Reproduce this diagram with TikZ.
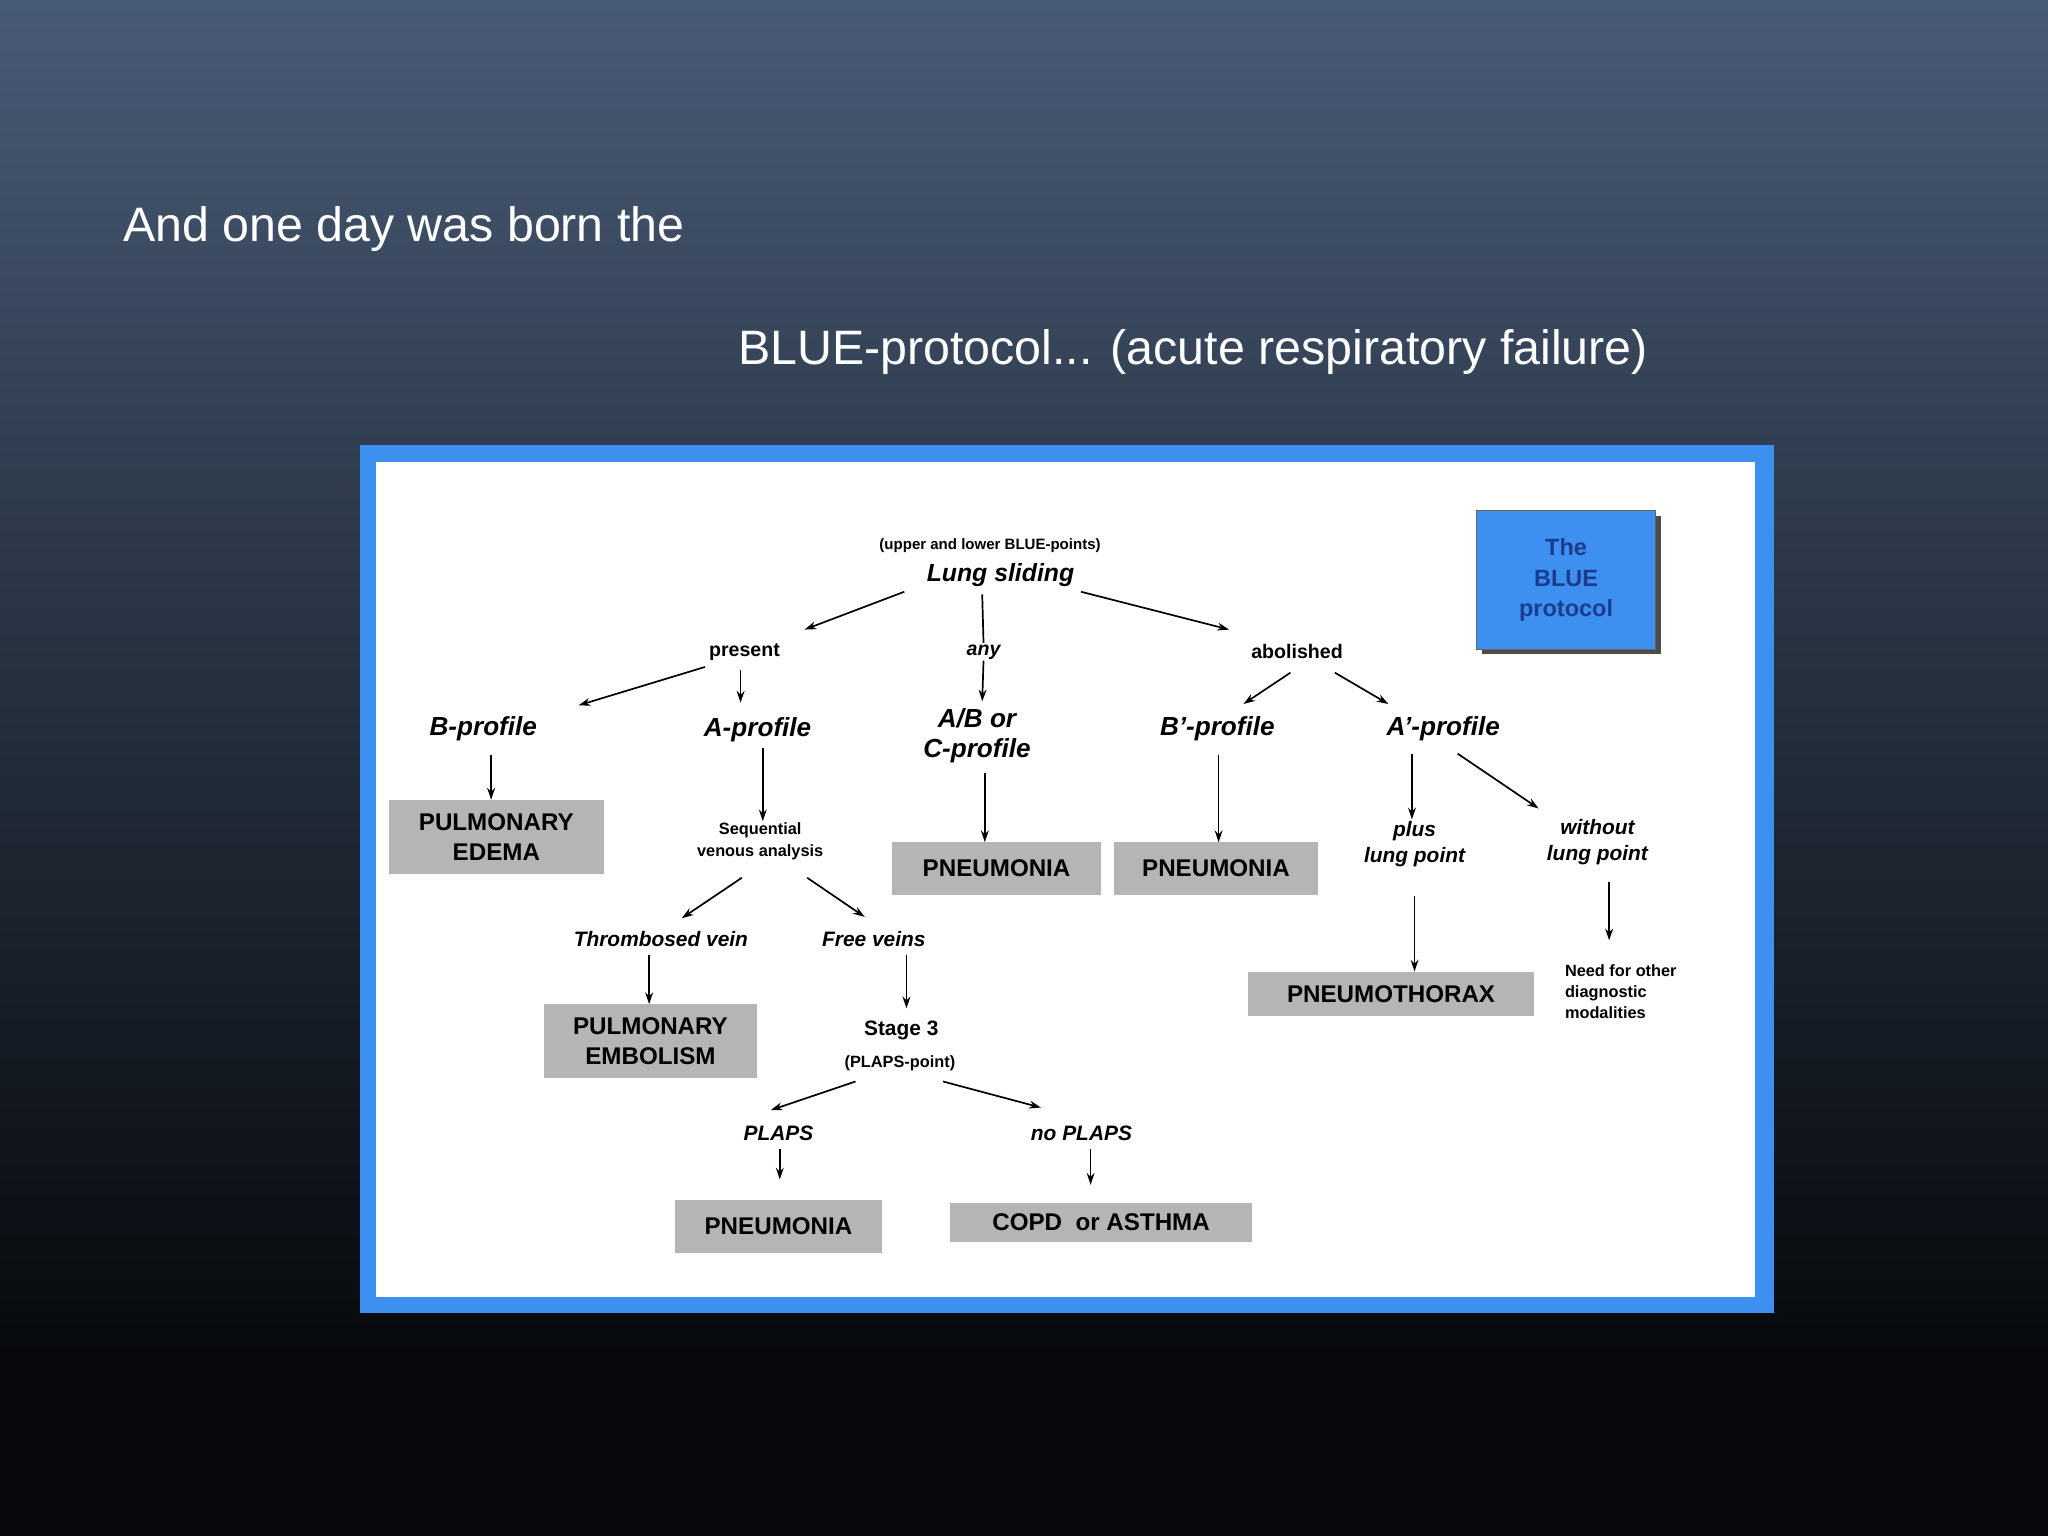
\documentclass[tikz,border=0pt]{standalone}
\usepackage{fontspec}
\setmainfont{Liberation Sans}
\usetikzlibrary{arrows.meta}
\definecolor{bgtop}{HTML}{485B76}
\definecolor{bgmid}{HTML}{26303F}
\definecolor{bgbot}{HTML}{07090C}
\definecolor{frameblue}{HTML}{3D8FF0}
\definecolor{boxgray}{HTML}{B5B5B5}
\definecolor{dkblue}{HTML}{1C3C8E}
\begin{document}
\begin{tikzpicture}[x=1pt,y=-1pt,
  lab/.style={font=\bfseries\fontsize{15}{17}\selectfont,align=center,inner sep=1pt},
  ilab/.style={font=\bfseries\itshape\fontsize{15}{17}\selectfont,align=center,inner sep=1pt},
  prof/.style={font=\bfseries\itshape\fontsize{20}{22}\selectfont,align=center,inner sep=1pt},
  small/.style={font=\bfseries\fontsize{11.5}{15}\selectfont,align=center,inner sep=1pt},
  res/.style={fill=boxgray,font=\bfseries\fontsize{18.5}{23}\selectfont,align=center,inner sep=0pt},
  arr/.style={-{Stealth[length=9pt,width=6pt]},line width=1.3pt},
  ln/.style={line width=1.3pt}]
\useasboundingbox (0,0) rectangle (1568,1176);
\shade[top color=bgtop,bottom color=bgbot,middle color=bgmid] (0,0) rectangle (1568,1040);
\fill[bgbot] (0,1039) rectangle (1568,1176);
\node[anchor=base west,text=white,font=\fontsize{37}{40}\selectfont,inner sep=0pt] (t1) at (94,185) {And one day was born the};
\node[anchor=base west,text=white,font=\fontsize{37}{40}\selectfont,inner sep=0pt] (t2) at (565,279) {BLUE-protocol... (acute respiratory failure)};
\fill[frameblue] (276,341) rectangle (1358,1005);
\fill[white] (288,354) rectangle (1344,993);
% blue box
\fill[black!70] (1135,395) rectangle (1272,501);
\node[fill=frameblue,draw=black!60,minimum width=137pt,minimum height=106pt,inner sep=0pt,text=dkblue,font=\bfseries\fontsize{18}{23.5}\selectfont,align=center] (blue) at (1199,444) {The\\BLUE\\protocol};
% texts
\node[small] (up) at (758,418) {(upper and lower BLUE-points)};
\node[prof,font=\bfseries\itshape\fontsize{19}{21}\selectfont] (ls) at (766,440) {Lung sliding};
\node[lab] (present) at (570,499) {present};
\node[ilab] (any) at (753,499) {any};
\node[lab] (abol) at (993,499) {abolished};
\node[prof] (B) at (370,558) {B-profile};
\node[prof] (A) at (580,559) {A-profile};
\node[prof,font=\bfseries\itshape\fontsize{20}{23}\selectfont] (ABC) at (748,563) {A/B or\\C-profile};
\node[prof] (Bp) at (932,558) {B'-profile};
\node[prof] (Ap) at (1105,558) {A'-profile};
\node[res,minimum width=165pt,minimum height=57pt] (PE) at (380,641) {PULMONARY\\EDEMA};
\node[small,font=\bfseries\fontsize{12.5}{16.5}\selectfont] (seq) at (582,644) {Sequential\\venous analysis};
\node[res,minimum width=160pt,minimum height=40pt] (pn1) at (763,665) {PNEUMONIA};
\node[res,minimum width=156pt,minimum height=40pt] (pn2) at (931,665) {PNEUMONIA};
\node[ilab,font=\bfseries\itshape\fontsize{16}{20}\selectfont] (plus) at (1083,646) {plus\\lung point};
\node[ilab,font=\bfseries\itshape\fontsize{16}{20}\selectfont] (wo) at (1223,645) {without\\lung point};
\node[ilab,font=\bfseries\itshape\fontsize{16}{18}\selectfont] (th) at (506,719) {Thrombosed vein};
\node[ilab,font=\bfseries\itshape\fontsize{16}{18}\selectfont] (fv) at (669,719) {Free veins};
\node[res,minimum width=163pt,minimum height=56pt] (pemb) at (498,797) {PULMONARY\\EMBOLISM};
\node[res,minimum width=219pt,minimum height=34pt] (ptx) at (1065,761) {PNEUMOTHORAX};
\node[small,font=\bfseries\fontsize{12.5}{16}\selectfont,align=left,anchor=west] (need) at (1197,759) {Need for other\\diagnostic\\modalities};
\node[lab,font=\bfseries\fontsize{16}{18}\selectfont] (st) at (690,789) {Stage 3};
\node[small,font=\bfseries\fontsize{12.5}{14}\selectfont] (pp) at (689,814) {(PLAPS-point)};
\node[ilab,font=\bfseries\itshape\fontsize{16}{18}\selectfont] (plaps) at (596,868) {PLAPS};
\node[ilab,font=\bfseries\itshape\fontsize{16}{18}\selectfont] (nop) at (828,868) {no PLAPS};
\node[res,minimum width=158pt,minimum height=40pt] (pn3) at (596,939) {PNEUMONIA};
\node[res,minimum width=231pt,minimum height=30pt] (copd) at (843,936) {COPD\ \ or ASTHMA};
% arrows
\draw[arr] (ls.south west)++(-16,3) -- (616,482);
\draw[ln] (752,455) -- (any.north);
\draw[arr] (any.south) -- (752,537);
\draw[arr] (ls.south east)++(4,3) -- (941,482);
\draw[arr] (present.south west)++(-2,4) -- (443,540);
\draw[arr] (567,513) -- (567,538);
\draw[arr] (988,515) -- (952,539);
\draw[arr] (1022,515) -- (1063,539);
\draw[arr] (376,578) -- (PE.north -| 376,0);
\draw[arr] (584,573) -- (seq.north -| 584,0);
\draw[arr] (754,592) -- (pn1.north -| 754,0);
\draw[arr] (933,578) -- (pn2.north -| 933,0);
\draw[arr] (1081,577) -- (plus.north -| 1081,0);
\draw[arr] (1116,577) -- (1178,619);
\draw[arr] (568,672) -- (522,703);
\draw[arr] (618,672) -- (662,702);
\draw[arr] (497,731) -- (pemb.north -| 497,0);
\draw[arr] (694,731) -- (694,772);
\draw[arr] (1083,686) -- (ptx.north -| 1083,0);
\draw[arr] (1232,675) -- (1232,720);
\draw[arr] (655,828) -- (590,850);
\draw[arr] (722,828) -- (797,848);
\draw[arr] (597,880) -- (597,903);
\draw[arr] (835,880) -- (835,907);
\end{tikzpicture}
\end{document}
